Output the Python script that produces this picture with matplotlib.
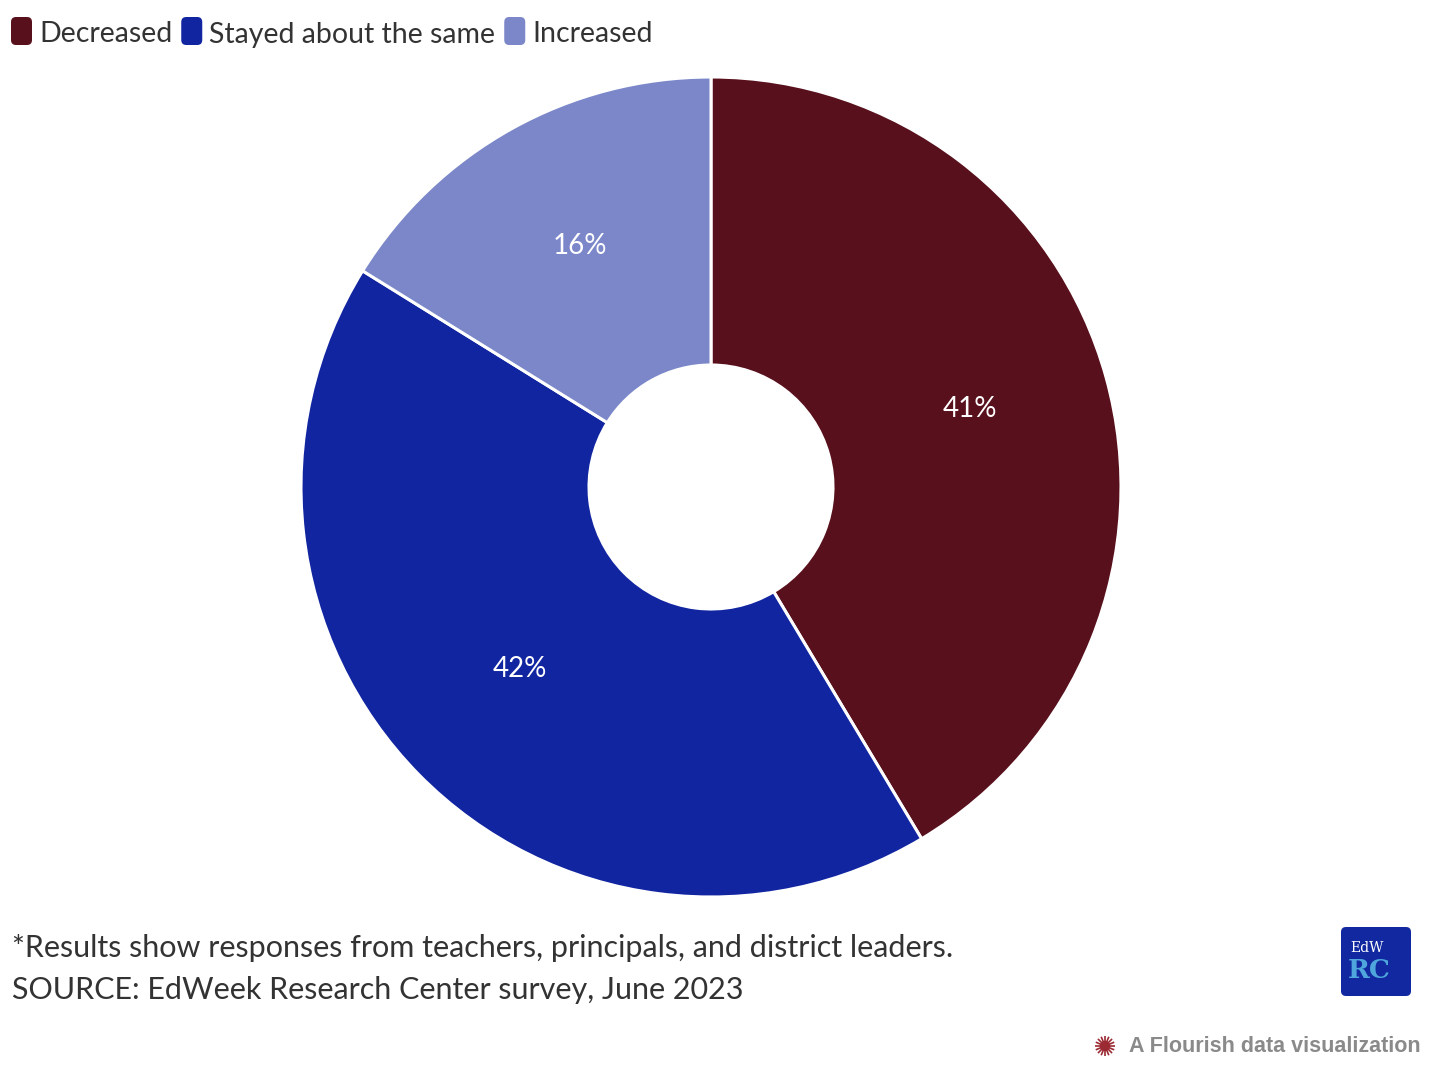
import numpy as np
import matplotlib
matplotlib.use("Agg")
import matplotlib.pyplot as plt
from matplotlib.patches import FancyBboxPatch

categories = ["Decreased", "Stayed about the same", "Increased"]
values = [41, 42, 16]
colors = ["#58101c", "#1125a0", "#7b87c9"]
footnote = "*Results show responses from teachers, principals, and district leaders."
source = "SOURCE: EdWeek Research Center survey, June 2023"

W, H = 1435, 1065
fig = plt.figure(figsize=(W / 100, H / 100), dpi=100)
ax = fig.add_axes([0, 0, 1, 1])

font = "Lato"
cx, cy, R, r_in = 711, H - 487, 410, 122
wedges, _ = ax.pie(values, colors=colors, startangle=90, counterclock=False,
                   center=(cx, cy), radius=R, frame=True,
                   wedgeprops=dict(width=R - r_in, edgecolor="white", linewidth=2.2))
ax.set_xlim(0, W)
ax.set_ylim(0, H)
ax.set_aspect("equal")
ax.axis("off")

for w, v in zip(wedges, values):
    ang = np.deg2rad((w.theta1 + w.theta2) / 2)
    d = 0.655 * R
    ax.text(cx + d * np.cos(ang), cy + d * np.sin(ang) + 6, f"{v}%", color="white",
            fontsize=20, family=font, ha="center", va="center")

# legend
fig.canvas.draw()
renderer = fig.canvas.get_renderer()
x = 11
ly = H - 31
for cat, col in zip(categories, colors):
    ax.add_patch(FancyBboxPatch((x, ly - 14), 21, 28, boxstyle="round,pad=0,rounding_size=5",
                                fc=col, ec="none"))
    t = ax.text(x + 28, ly - 1, cat, fontsize=20.5, family=font, color="#333333",
                ha="left", va="center_baseline")
    bb = t.get_window_extent(renderer)
    x = bb.x1 + 9

ax.text(12, H - 945, footnote, fontsize=22, family=font, color="#333333", ha="left", va="center_baseline")
ax.text(12, H - 987, source, fontsize=22, family=font, color="#333333", ha="left", va="center_baseline")

# logo
ax.add_patch(FancyBboxPatch((1341, H - 996), 70, 69, boxstyle="round,pad=0,rounding_size=5",
                            fc="#1128a0", ec="none"))
ax.text(1350, H - 948, "EdW", fontsize=10, family="DejaVu Serif", color="white",
        ha="left", va="center")
ax.text(1348, H - 970, "RC", fontsize=19, family="DejaVu Serif", weight="bold",
        color="#4ea6dc", ha="left", va="center")

# flourish credit
ax.text(1421, H - 1046, "A Flourish data visualization", fontsize=15.5,
        family="Liberation Sans", weight="bold", color="#8a8a8a", ha="right", va="center")
sx, sy = 1105, H - 1046
for a in np.linspace(0, np.pi, 8, endpoint=False):
    ax.plot([sx - 10 * np.cos(a), sx + 10 * np.cos(a)], [sy - 10 * np.sin(a), sy + 10 * np.sin(a)],
            color="#9b2a33", lw=1.2, solid_capstyle="butt")
ax.add_patch(plt.Circle((sx, sy), 4.5, color="#9b2a33"))

fig.savefig("out.png", dpi=100, facecolor="white")
